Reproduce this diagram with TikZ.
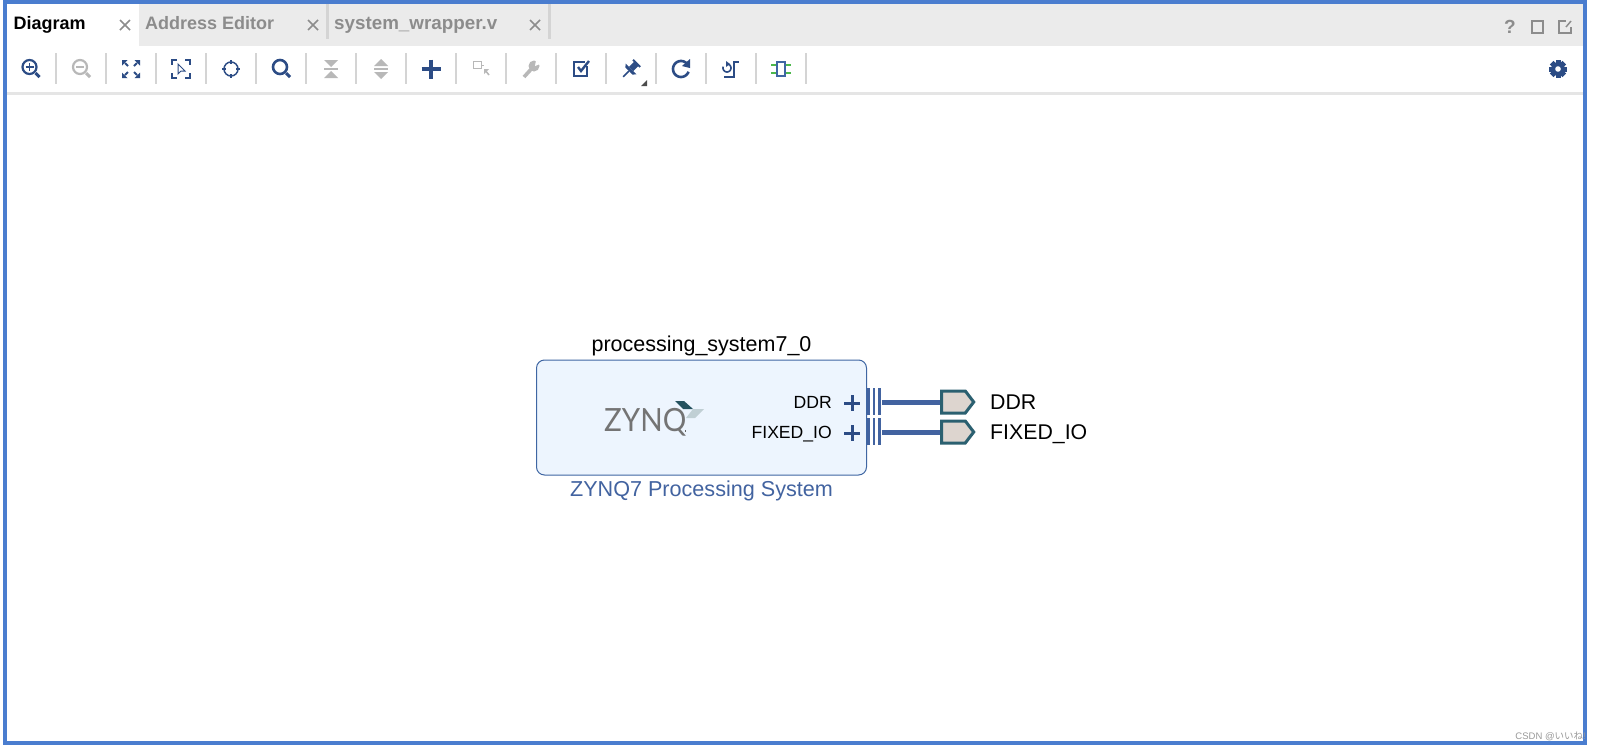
\documentclass[tikz,border=0pt]{standalone}
\usepackage{fontspec}
\setmainfont{Liberation Sans}
\newfontfamily\cjkfont{Noto Sans CJK JP}
\newfontfamily\logofont[FakeStretch=0.92]{Lato}
\usetikzlibrary{shapes,shapes.symbols}
\definecolor{frameblue}{HTML}{4A7DCF}
\definecolor{tabgrey}{HTML}{EBEBEB}
\definecolor{sepgrey}{HTML}{D4D4D4}
\definecolor{navy}{HTML}{2C4C85}
\definecolor{offgrey}{HTML}{B8B8B8}
\definecolor{tabtext}{HTML}{8C8C8C}
\definecolor{boxfill}{HTML}{EDF5FE}
\definecolor{boxline}{HTML}{3F66A3}
\definecolor{wireblue}{HTML}{4263A0}
\definecolor{extline}{HTML}{2B6070}
\definecolor{extfill}{HTML}{DDD5CF}
\definecolor{logogrey}{HTML}{747474}
\newcommand{\pxfont}[1]{\fontsize{#1}{#1}\selectfont}

\begin{document}
\begin{tikzpicture}[x=1pt,y=-1pt]
   \tikzstyle{tabtitle}=[anchor=base west, inner sep=0pt, font=\pxfont{18}\bfseries, text=tabtext]
   \tikzstyle{tabclose}=[draw=tabtext, line width=1.5pt]
   \tikzstyle{iconon}=[draw=navy, line width=2pt]
   \tikzstyle{iconoff}=[draw=offgrey, line width=2pt]
   \tikzstyle{inpin}=[anchor=base east, inner sep=0pt, font=\pxfont{17.6}]
   \tikzstyle{expin}=[anchor=base west, inner sep=0pt, font=\pxfont{21.3}]
   \tikzstyle{extport}=[signal, signal to=east, signal pointer angle=105, draw=extline, line width=3pt, fill=extfill, minimum width=32pt, minimum height=22pt, inner sep=0pt]
   \tikzstyle{wire}=[draw=wireblue, line width=5pt]
   \useasboundingbox (0,0) rectangle (1601,750);
   \fill[white] (0,0) rectangle (1601,750);
   \fill[tabgrey] (139,3) rectangle (1583,46);
   \fill[sepgrey!60] (7,92) rectangle (1583,95);
   % tabs
   \node[tabtitle, text=black] (tabdiagram) at (13.5,29.5) {Diagram};
   \node[tabtitle] (tabaddress) at (145,29.5) {Address Editor};
   \node[tabtitle, font=\pxfont{18.8}\bfseries] (tabwrapper) at (334,29.5) {system\_wrapper.v};
   \foreach \x in {125,313,535} {
       \draw[tabclose] (\x-5,20) -- (\x+5,30) (\x-5,30) -- (\x+5,20);
   }
   \foreach \x in {327,549} {
       \draw[sepgrey, line width=3pt] (\x,3) -- (\x,39);
   }
   % toolbar
   \foreach \x in {56,106,...,806} {
       \draw[sepgrey, line width=1.7pt] (\x,53) -- (\x,84);
   }
   \begin{scope}[shift={(30.5,68)}]
       \draw[iconon, line width=2.2pt] (-1,-1) circle (7);
       \draw[iconon, line width=1.6pt] (-5,-1) -- (3,-1) (-1,-5) -- (-1,3);
       \draw[iconon, line width=3pt] (5,5) -- (9,9);
   \end{scope}
   \begin{scope}[shift={(81,68)}]
       \draw[iconoff, line width=2.2pt] (-1,-1) circle (7);
       \draw[iconoff, line width=1.6pt] (-5,-1) -- (3,-1);
       \draw[iconoff, line width=3pt] (5,5) -- (9,9);
   \end{scope}
   \begin{scope}[shift={(131,69)}]
       \foreach \sx/\sy in {1/1,-1/1,1/-1,-1/-1} {
           \fill[navy] (\sx*9,\sy*9) -- (\sx*9,\sy*3.5) -- (\sx*3.5,\sy*9) -- cycle;
           \draw[iconon, line width=1.8pt] (\sx*6,\sy*6) -- (\sx*3,\sy*3);
       }
   \end{scope}
   \begin{scope}[shift={(181,69)}]
       \foreach \sx/\sy in {1/1,-1/1,1/-1,-1/-1} {
           \draw[iconon, line width=1.5pt] (\sx*4,\sy*9) -- (\sx*9,\sy*9) -- (\sx*9,\sy*4);
       }
       \draw[navy, line width=1pt, fill=white] (-3,-5) -- (-3,5) -- (0,2) -- (4,2) -- cycle;
   \end{scope}
   \begin{scope}[shift={(231,69)}]
       \draw[iconon, line width=1.5pt] (0,0) circle (7);
       \draw[iconon, line width=1.5pt] (-9,0) -- (-5,0) (5,0) -- (9,0) (0,-9) -- (0,-5) (0,5) -- (0,9);
   \end{scope}
   \begin{scope}[shift={(281,68)}]
       \draw[iconon, line width=2.6pt] (-1,-1) circle (7);
       \draw[iconon, line width=3pt] (5,5) -- (9,9);
   \end{scope}
   \begin{scope}[shift={(331,69)}]
       \fill[offgrey] (-7,-9) -- (7,-9) -- (0,-2) -- cycle;
       \fill[offgrey] (-7,9) -- (7,9) -- (0,2) -- cycle;
       \draw[iconoff, line width=1.3pt] (-7,0) -- (7,0);
   \end{scope}
   \begin{scope}[shift={(381,69)}]
       \fill[offgrey] (-7,-3) -- (7,-3) -- (0,-10) -- cycle;
       \fill[offgrey] (-7,3) -- (7,3) -- (0,10) -- cycle;
       \draw[iconoff, line width=1.3pt] (-7,0) -- (7,0);
   \end{scope}
   \draw[iconon, line width=3.6pt] (421.5,69) -- (440.5,69) (431,59.5) -- (431,78.5);
   \begin{scope}[shift={(481,69)}]
       \draw[iconoff, line width=1pt] (-8,-8) rectangle (0,-1);
       \draw[iconoff, line width=1pt] (0,-4) -- (3,-4);
       \draw[iconoff, line width=1.5pt] (4,1) -- (8,6);
       \fill[offgrey] (3,0) -- (8,0) -- (3,5) -- cycle;
   \end{scope}
   \begin{scope}[shift={(531,69)}]
       \draw[iconoff, line width=3.6pt] (-7,8) -- (3,-3);
       \fill[offgrey] (3,-3) circle (5.5);
       \fill[white] (5,-9) -- (9,-5) -- (4,-3) -- cycle;
   \end{scope}
   \begin{scope}[shift={(581,69)}]
       \draw[iconon, line width=1.8pt] (6,-3) -- (6,7) -- (-7,7) -- (-7,-7) -- (4,-7);
       \draw[iconon, line width=2.4pt] (-3,-2) -- (0,2) -- (8,-8);
   \end{scope}
   \begin{scope}[shift={(631,69)}]
       \fill[navy, rotate=-45] (-5,-9) rectangle (5,-7);
       \fill[navy, rotate=-45] (-3,-8) rectangle (3,0);
       \fill[navy, rotate=-45] (-7.5,0) -- (7.5,0) -- (5,3) -- (-5,3) -- cycle;
       \draw[iconon, rotate=-45, line width=1.6pt] (0,3) -- (0,11);
       \fill[black!70] (16,11) -- (16,17) -- (10,17) -- cycle;
   \end{scope}
   \begin{scope}[shift={(681,69)}]
       \draw[iconon, line width=2.6pt] plot[domain=20:315, samples=30, smooth] ({8*cos(\x)},{8*sin(\x)});
       \fill[navy] (9,-10) -- (9,-1) -- (1,-3) -- cycle;
   \end{scope}
   \begin{scope}[shift={(731,69)}]
       \draw[iconon, line width=1.8pt] (-7,8) -- (3,8) -- (3,-7) -- (8,-7);
       \draw[iconon, line width=1.6pt] plot[domain=-80:200, samples=24, smooth] ({-4+4*cos(\x)},{-1+4*sin(\x)});
       \fill[navy] (-5,-8) -- (-5,-2) -- (-1,-5) -- cycle;
   \end{scope}
   \begin{scope}[shift={(781,69)}]
       \draw[draw=green!60!black!70, line width=1.6pt] (-10,-4) -- (10,-4) (-10,4) -- (10,4);
       \draw[draw=boxline, fill=white, line width=1.6pt] (-4,-7) rectangle (4,7);
   \end{scope}
   \begin{scope}[shift={(1558,69)}]
       \foreach \a in {0,45,...,315} {
           \fill[navy, rotate=\a] (-2.5,-9) rectangle (2.5,-4);
       }
       \fill[navy] (0,0) circle (6.8);
       \fill[white] (0,0) circle (2.8);
   \end{scope}
   % window buttons
   \node[inner sep=0pt, text=black!45, font=\pxfont{19}\bfseries] (helpmark) at (1510,27) {?};
   \draw[draw=black!45, line width=2pt] (1532,21) rectangle (1543,33);
   \draw[draw=black!45, line width=2pt] (1566,21) -- (1559,21) -- (1559,33) -- (1571,33) -- (1571,27);
   \draw[draw=black!45, line width=1.5pt] (1566,27) -- (1571,21);
   % block
   \node[draw=boxline, fill=boxfill, rounded corners=8pt, line width=1pt, minimum width=330pt, minimum height=115pt, inner sep=0pt] (ps7) at (701.5,417.5) {};
   \node[anchor=base, inner sep=0pt, font=\pxfont{21.5}] (ps7name) at (701.5,351) {processing\_system7\_0};
   \node[anchor=base, inner sep=0pt, font=\pxfont{21.6}, text=wireblue] (ps7type) at (701.5,496) {ZYNQ7 Processing System};
   \node[anchor=base west, inner sep=0pt, font=\pxfont{32}\logofont, text=logogrey] (zynqlogo) at (604,431) {ZYNQ};
   \fill[black!60] (684.5,430) rectangle (686,431.5);
   \fill[extline!85!black] (675,401) -- (684,401) -- (693,409) -- (683,409) -- cycle;
   \fill[extline!30!white] (693,409) -- (704,409) -- (695,418) -- (686,418) -- cycle;
   \foreach \pin/\pintext/\yy in {ddr/DDR/402,fixed/FIXED\_IO/432} {
       \node[inpin] (\pin in) at (832,\yy+6) {\pintext};
       \draw[draw=navy, line width=3pt] (844,\yy+1) -- (860,\yy+1) (852,\yy-7) -- (852,\yy+9);
       \foreach \x in {868.5,874,879.5} {
           \draw[draw=wireblue, line width=2.4pt] (\x,\yy-14) -- (\x,\yy+13);
       }
       \coordinate (\pin pin) at (882,\yy);
       \node[extport] (\pin port) at (953.5,\yy) {};
       \draw[wire] (\pin pin) -- (\pin port.west);
       \node[expin] (\pin out) at (990,\yy+7) {\pintext};
   }
   % frame
   \draw[draw=frameblue, line width=4pt] (4.5,1.5) rectangle (1584.5,742.5);
   \node[anchor=east, inner sep=0pt, text=black!40, font=\pxfont{9.5}] (watermark) at (1586,736) {CSDN @{\cjkfont いいね}!};
\end{tikzpicture}
\end{document}
